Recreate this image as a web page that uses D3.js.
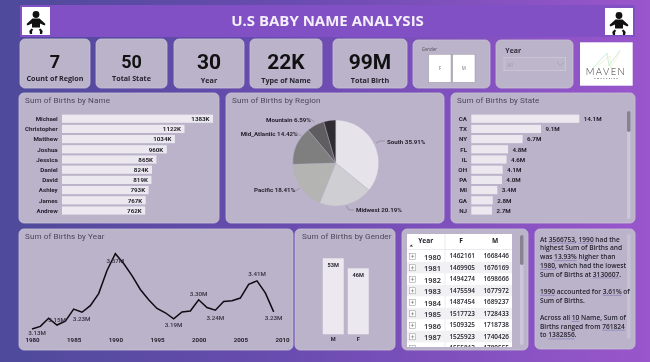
<!DOCTYPE html>
<html>
<head>
<meta charset="utf-8">
<script src="https://cdn.jsdelivr.net/npm/d3@7"></script>
<style>
  html, body { margin: 0; padding: 0; background: #5b4aa6; overflow: hidden; }
  svg { display: block; filter: blur(0.3px); }
  text { font-family: "Open Sans", "Noto Sans", sans-serif; fill: #1d1b26; }
  .title { font-size: 8.1px; fill: #4c4858; font-family: Roboto, sans-serif; letter-spacing: .1px; }
  .lbl { font-family: Roboto, sans-serif; font-size: 6.2px; font-weight: 700; fill: #26232f; }
</style>
</head>
<body>
<svg id="chart" width="650" height="362"></svg>
<script>
// kpi cards
const kpiValues = ['7', '50', '30', '22K', '99M'];
const kpiLabels = ['Count of Region', 'Total State', 'Year', 'Type of Name', 'Total Birth'];

// births by name
const names = ['Michael', 'Christopher', 'Matthew', 'Joshua', 'Jessica', 'Daniel', 'David', 'Ashley', 'James', 'Andrew'];
const nameBirths = [1383, 1122, 1034, 960, 865, 824, 819, 793, 767, 762];

// births by region
const regions = ['South', 'Midwest', 'Pacific', 'Mid_Atlantic', 'Mountain', 'Other'];
const regionShare = [35.91, 20.19, 18.41, 14.42, 6.59, 4.48];
const regionColors = ['#e6e4ea', '#cfced2', '#b4b4b2', '#7f7f7f', '#5f5d60', '#2f2c33'];

// births by state
const states = ['CA', 'TX', 'NY', 'FL', 'IL', 'OH', 'PA', 'MI', 'GA', 'NJ'];
const stateBirths = [14.1, 9.1, 6.7, 4.8, 4.6, 4.1, 4.0, 3.4, 2.8, 2.7];

// births by year
const years = [1980, 1981, 1982, 1983, 1984, 1985, 1986, 1987, 1988, 1989, 1990, 1991, 1992, 1993, 1994, 1995, 1996, 1997, 1998, 1999, 2000, 2001, 2002, 2003, 2004, 2005, 2006, 2007, 2008, 2009];
const yearBirths = [3.131, 3.146, 3.193, 3.154, 3.177, 3.246, 3.228, 3.266, 3.336, 3.47, 3.567, 3.51, 3.44, 3.36, 3.30, 3.25, 3.225, 3.19, 3.23, 3.235, 3.30, 3.255, 3.24, 3.29, 3.295, 3.31, 3.39, 3.41, 3.34, 3.23];
const yearTicks = [1980, 1985, 1990, 1995, 2000, 2005, 2010];
// year, label, shift from the point
const yearNotes = [[1980, '3.13M', 5, 6], [1983, '3.15M', 0, -3.3], [1985, '3.23M', 8, 12], [1990, '3.57M', 0, 9.3], [1997, '3.19M', 0, 8.2], [2000, '3.30M', 0, -4], [2002, '3.24M', 0, 9.7], [2007, '3.41M', 0, -4.5], [2009, '3.23M', 0, 8]];

// births by gender
const genders = ['M', 'F'];
const genderBirths = [53, 46];

// table
const tableYears = [1980, 1981, 1982, 1983, 1984, 1985, 1986, 1987, 1988];
const tableF = [1462161, 1469905, 1494274, 1475594, 1487454, 1517723, 1509325, 1525923, 1555812];
const tableM = [1668446, 1676169, 1698666, 1677972, 1689237, 1728433, 1718738, 1740426, 1780555];

const narrative = ['At 3566753, 1990 had the', 'highest Sum of Births and', 'was 13.93% higher than', '1980, which had the lowest', 'Sum of Births at 3130607.', '', '1990 accounted for 3.61% of', 'Sum of Births.', '', 'Across all 10 Name, Sum of', 'Births ranged from 761824', 'to 1382856.'];
const narrativeMarks = ['3566753', '1990', '13.93%', '1980', '3130607', '3.61%', '10', '761824', '1382856'];

const svg = d3.select('#chart');
const defs = svg.append('defs');

const bg = defs.append('linearGradient').attr('id', 'bg').attr('x1', 0).attr('x2', 1).attr('y1', 0).attr('y2', 0);
bg.append('stop').attr('offset', '0%').attr('stop-color', '#4e4a9a');
bg.append('stop').attr('offset', '45%').attr('stop-color', '#6a4cb0');
bg.append('stop').attr('offset', '100%').attr('stop-color', '#9a56cc');
svg.append('rect').attr('width', 650).attr('height', 362).attr('fill', 'url(#bg)');

// header band
svg.append('rect').attr('x', 20).attr('y', 5).attr('width', 615).attr('height', 32).attr('fill', '#8150c4');
svg.append('text').attr('x', 327.5).attr('y', 26).attr('text-anchor', 'middle')
  .style('font-size', '15px').style('font-weight', 700).style('fill', '#f3eefa').text('U.S BABY NAME ANALYSIS');

function panel(x, y, w, h, title) {
  const g = svg.append('g');
  g.append('rect').attr('x', x).attr('y', y).attr('width', w).attr('height', h).attr('rx', 5)
    .attr('fill', '#bab3ca').attr('stroke', '#c9c3d6').attr('stroke-width', 0.8);
  if (title) g.append('text').attr('class', 'title').attr('x', x + 6).attr('y', y + 9.5).text(title);
  return g;
}

// baby icon, drawn in its own box
function babyIcon(x, y, w, h) {
  const g = svg.append('g').attr('transform', `translate(${x},${y})`);
  g.append('rect').attr('width', w).attr('height', h).attr('fill', '#fff');
  const ink = '#111';
  const c = w / 2;
  g.append('circle').attr('cx', c).attr('cy', 7.5).attr('r', 3.4).attr('fill', ink);
  g.append('path').attr('d', `M${c - 9.5},${17} L${c - 3.5},${11.5} L${c + 3.5},${11.5} L${c + 9.5},${17} L${c + 8.5},${18.5} L${c + 4},${16.5} L${c + 4},${20.5} L${c - 4},${20.5} L${c - 4},${16.5} L${c - 8.5},${18.5} Z`).attr('fill', ink);
  g.append('path').attr('d', `M${c - 4.5},${21.5} l-2.2,2.5 l0.6,3 l2.2,0 l0,-3 l1.2,-1.2 Z M${c + 4.5},${21.5} l2.2,2.5 l-0.6,3 l-2.2,0 l0,-3 l-1.2,-1.2 Z`).attr('fill', ink);
}
babyIcon(22, 7, 28, 28);
babyIcon(605, 8, 28, 27);

// kpi cards
const kpiX = [20, 96, 174, 250, 333];
const kpiW = [70, 71, 70, 72, 74];
const kpiSize = [18, 18, 21, 21, 21];
const kpiBase = [68.3, 68.3, 69.3, 69.3, 69.3];
const kpiLabelBase = [81, 81, 83, 83.3, 83];
kpiValues.forEach((v, i) => {
  const g = panel(kpiX[i], 39, kpiW[i], 49);
  g.append('text').attr('x', kpiX[i] + kpiW[i] / 2).attr('y', kpiBase[i]).attr('text-anchor', 'middle')
    .style('font-family', 'Roboto, sans-serif').style('font-size', kpiSize[i] + 'px').style('font-weight', 700).style('fill', '#111').text(v);
  g.append('text').attr('x', kpiX[i] + kpiW[i] / 2).attr('y', kpiLabelBase[i]).attr('text-anchor', 'middle')
    .style('font-size', '7.2px').style('font-weight', 700).style('fill', '#26232f').text(kpiLabels[i]);
});

// gender slicer
const slicer = panel(413, 40, 77, 48);
slicer.append('text').attr('x', 421.7).attr('y', 51.3).style('font-size', '4.4px').style('fill', '#55515f').text('Gender');
['F', 'M'].forEach((d, i) => {
  slicer.append('rect').attr('x', 428.7 + i * 24).attr('y', 54.3).attr('width', 22.3).attr('height', 28).attr('fill', '#fff').attr('stroke', '#99959f').attr('stroke-width', 0.5);
  slicer.append('text').attr('x', 439.8 + i * 24).attr('y', 70).attr('text-anchor', 'middle').style('font-size', '4.5px').style('fill', '#77737f').text(d);
});

// year slicer
const yearSlicer = panel(496, 40, 77, 48);
yearSlicer.append('text').attr('x', 505.3).attr('y', 53.3).style('font-size', '7px').style('font-weight', 700).style('fill', '#33303c').text('Year');
yearSlicer.append('rect').attr('x', 504).attr('y', 57.3).attr('width', 61.7).attr('height', 13.4).attr('fill', '#bdb7cc').attr('stroke', '#d0cbdb').attr('stroke-width', 0.7);
yearSlicer.append('text').attr('x', 507).attr('y', 67).style('font-size', '5px').style('fill', '#9a97a6').text('All');
yearSlicer.append('path').attr('d', 'M557,62 l3.5,3.5 l3.5,-3.5').attr('fill', 'none').attr('stroke', '#9a97a6').attr('stroke-width', 0.6);

// logo
const logo = svg.append('g');
logo.append('rect').attr('x', 580).attr('y', 42.3).attr('width', 52.7).attr('height', 43.4).attr('fill', '#fff');
logo.append('path').attr('d', 'M593,68 L607,53 L609,66 L620,50').attr('fill', 'none').attr('stroke', '#a8e0d8').attr('stroke-width', 0.6);
logo.append('path').attr('d', 'M596,67 L610,56 L611,68 L620,52').attr('fill', 'none').attr('stroke', '#e2e9a4').attr('stroke-width', 0.5);
logo.append('text').attr('x', 606).attr('y', 75).attr('text-anchor', 'middle')
  .style('font-family', 'Lato, sans-serif').style('font-size', '9.5px').style('font-weight', 300).style('letter-spacing', '1.4px').style('fill', '#333').text('MAVEN');
logo.append('text').attr('x', 606.5).attr('y', 78.7).attr('text-anchor', 'middle').style('font-size', '2.4px').style('font-weight', 700).style('letter-spacing', '1.3px').style('fill', '#333').text('ANALYTICS');

// horizontal bar panel, used for name and state
function hbar(cats, vals, x0, x1, maxV, fmt, inside) {
  const x = d3.scaleLinear().domain([0, maxV]).range([x0, x1]);
  const y = d3.scaleBand().domain(cats).range([113.6, 215.6]).paddingInner(0.2).paddingOuter(0.1);
  const g = svg.append('g');
  g.selectAll('rect').data(vals).enter().append('rect')
    .attr('x', x0).attr('y', (d, i) => y(cats[i]))
    .attr('width', d => x(d) - x0).attr('height', y.bandwidth()).attr('fill', '#ebe9ef');
  g.selectAll('.val').data(vals).enter().append('text').attr('class', 'lbl')
    .attr('x', d => inside ? x(d) - 3.5 : x(d) + 4.4)
    .attr('y', (d, i) => y(cats[i]) + y.bandwidth() / 2 + 2.2)
    .attr('text-anchor', inside ? 'end' : 'start').text(fmt);
  g.selectAll('.cat').data(cats).enter().append('text').attr('class', 'lbl')
    .attr('x', x0 - 4.3).attr('y', d => y(d) + y.bandwidth() / 2 + 2.2)
    .attr('text-anchor', 'end').text(d => d);
}

panel(19, 93, 200, 130, 'Sum of Births by Name');
hbar(names, nameBirths, 62, 213, 1383, d => d + 'K', true);

panel(451, 93, 184, 130, 'Sum of Births by State');
hbar(states, stateBirths, 471.3, 579.3, 14.1, d => d.toFixed(1) + 'M', false);
// state scrollbar
svg.append('rect').attr('x', 627).attr('y', 111).attr('width', 3.5).attr('height', 108).attr('rx', 1.7).attr('fill', '#cbc6d8');
svg.append('rect').attr('x', 627).attr('y', 111).attr('width', 3.5).attr('height', 21).attr('rx', 1.7).attr('fill', '#86828f');

// pie
panel(226, 93, 218, 130, 'Sum of Births by Region');
const pieG = svg.append('g').attr('transform', 'translate(335.7,163)');
const pie = d3.pie().sort(null)(regionShare);
const arc = d3.arc().innerRadius(0).outerRadius(43);
pieG.selectAll('path').data(pie).enter().append('path')
  .attr('d', arc).attr('fill', (d, i) => regionColors[i]).attr('stroke', '#bab3ca').attr('stroke-width', 0.4);
const pieLabels = [
  { i: 0, lx: 387, ly: 144, line: [[376, 143.3], [380, 141], [385, 141]] },
  { i: 1, lx: 356, ly: 211.7, line: [[346.3, 205.7], [349, 210], [354, 210]] },
  { i: 2, lx: 254, ly: 192, line: [[299.7, 188.3], [296, 190.7], [291.3, 190.7]] },
  { i: 3, lx: 240.7, ly: 135.7, line: [[301.3, 136], [297, 133.3], [292, 133.3]] },
  { i: 4, lx: 266, ly: 122, line: [[314.7, 122.3], [311, 119.3], [307.7, 119.3]] }
];
pieLabels.forEach(p => {
  svg.append('text').attr('class', 'lbl').attr('x', p.lx).attr('y', p.ly)
    .text(regions[p.i] + ' ' + regionShare[p.i].toFixed(2) + '%');
  svg.append('path').attr('d', d3.line()(p.line)).attr('fill', 'none').attr('stroke', '#77737f').attr('stroke-width', 0.5);
});

// line chart
panel(19, 229, 274, 121, 'Sum of Births by Year');
const lx = d3.scaleLinear().domain([1980, 2010]).range([32, 282]);
const ly = d3.scaleLinear().domain([3.131, 3.567]).range([329, 253.7]);
svg.append('path').datum(yearBirths)
  .attr('d', d3.line().x((d, i) => lx(years[i])).y(d => ly(d)))
  .attr('fill', 'none').attr('stroke', '#0d0b12').attr('stroke-width', 1.5);
const xAxis = svg.append('g').attr('transform', 'translate(0,336)')
  .call(d3.axisBottom(lx).tickValues(yearTicks).tickFormat(d3.format('d')).tickSize(0));
xAxis.select('.domain').remove();
xAxis.selectAll('text').attr('class', 'lbl').attr('y', 0).attr('dy', '5.7').attr('fill', null);
yearNotes.forEach(n => {
  const i = years.indexOf(n[0]);
  svg.append('text').attr('class', 'lbl').attr('x', lx(n[0]) + n[2]).attr('y', ly(yearBirths[i]) + n[3])
    .attr('text-anchor', 'middle').style('font-weight', 500).style('fill', '#33303c').text(n[1]);
});

// gender bars
panel(295, 229, 100, 121);
svg.append('text').attr('class', 'title').attr('x', 302).attr('y', 239).text('Sum of Births by Gender');
const gx = d3.scaleBand().domain(genders).range([321.5, 370]).paddingInner(0.16).paddingOuter(0.05);
const gy = d3.scaleLinear().domain([0, 53]).range([334.3, 258.3]);
svg.selectAll('.gbar').data(genderBirths).enter().append('rect')
  .attr('x', (d, i) => gx(genders[i])).attr('y', d => gy(d))
  .attr('width', gx.bandwidth()).attr('height', d => 334.3 - gy(d)).attr('fill', '#ebe9ef');
svg.selectAll('.gval').data(genderBirths).enter().append('text').attr('class', 'lbl')
  .attr('x', (d, i) => gx(genders[i]) + gx.bandwidth() / 2).attr('y', d => gy(d) + 9)
  .attr('text-anchor', 'middle').style('font-size', '5.6px').text(d => d + 'M');
svg.selectAll('.gcat').data(genders).enter().append('text').attr('class', 'lbl')
  .attr('x', d => gx(d) + gx.bandwidth() / 2).attr('y', 341.3)
  .attr('text-anchor', 'middle').style('font-size', '5.6px').text(d => d);

// table
panel(402, 229, 126, 121);
const table = svg.append('g');
defs.append('clipPath').attr('id', 'tbl').append('rect').attr('x', 407).attr('y', 234).attr('width', 105).attr('height', 113);
table.attr('clip-path', 'url(#tbl)');
table.append('rect').attr('x', 407).attr('y', 234).attr('width', 105).attr('height', 113).attr('fill', '#fff');
table.append('path').attr('d', 'M407,249.5 H512 M445,234 V347').attr('stroke', '#e3e1e6').attr('stroke-width', 0.7);
table.append('text').attr('x', 425.7).attr('y', 242.7).attr('text-anchor', 'middle').style('font-size', '6.6px').style('font-weight', 700).text('Year');
table.append('path').attr('d', 'M409.5,246.5 l1.8,-2 l1.8,2 Z').attr('fill', '#333');
table.append('text').attr('x', 461).attr('y', 242.7).attr('text-anchor', 'middle').style('font-size', '6.6px').style('font-weight', 700).text('F');
table.append('text').attr('x', 495).attr('y', 242.7).attr('text-anchor', 'middle').style('font-size', '6.6px').style('font-weight', 700).text('M');
const rowY = d3.scaleLinear().domain([0, 1]).range([250.3, 261.8]);
tableYears.forEach((yr, i) => {
  const ry = rowY(i);
  if (i % 2 === 1) table.append('rect').attr('x', 407).attr('y', ry).attr('width', 105).attr('height', 11.5).attr('fill', '#f1f0f2');
  table.append('rect').attr('x', 409.5).attr('y', ry + 3).attr('width', 6).attr('height', 6).attr('fill', '#fff').attr('stroke', '#8d8d8d').attr('stroke-width', 0.5);
  table.append('path').attr('d', `M410.8,${ry + 6} h3.4 M412.5,${ry + 4.3} v3.4`).attr('stroke', '#666').attr('stroke-width', 0.5);
  table.append('text').attr('x', 441).attr('y', ry + 9.2).attr('text-anchor', 'end').style('font-size', '7.4px').style('font-weight', 600).text(yr);
  table.append('text').attr('x', 475).attr('y', ry + 7.9).attr('text-anchor', 'end').style('font-size', '6.4px').style('font-weight', 600).text(tableF[i]);
  table.append('text').attr('x', 509).attr('y', ry + 7.9).attr('text-anchor', 'end').style('font-size', '6.4px').style('font-weight', 600).text(tableM[i]);
});
svg.append('rect').attr('x', 520).attr('y', 235).attr('width', 3.5).attr('height', 110).attr('rx', 1.7).attr('fill', '#cbc6d8');
svg.append('rect').attr('x', 520).attr('y', 235).attr('width', 3.5).attr('height', 30).attr('rx', 1.7).attr('fill', '#86828f');

// narrative
panel(535, 229, 100, 120);
svg.append('rect').attr('x', 627).attr('y', 234).attr('width', 3.5).attr('height', 105).attr('rx', 1.7).attr('fill', '#c6c1d2');
const lineY = d3.scaleLinear().domain([0, 1]).range([241.7, 250.4]);
narrative.forEach((t, i) => {
  if (!t) return;
  const txt = svg.append('text').attr('x', 540).attr('y', lineY(i)).style('font-size', '6.6px').style('font-weight', 600).style('fill', '#26232f').text(t);
  // underline the highlighted values, as the smart narrative does
  narrativeMarks.forEach(m => {
    const at = t.indexOf(m);
    if (at < 0) return;
    const node = txt.node();
    const x1 = 540 + (at ? node.getSubStringLength(0, at) : 0);
    const x2 = x1 + node.getSubStringLength(at, m.length);
    svg.append('path').attr('d', `M${x1},${lineY(i) + 1.5} H${x2}`).attr('stroke', '#6f6cae').attr('stroke-width', 0.5);
  });
});
</script>
</body>
</html>
